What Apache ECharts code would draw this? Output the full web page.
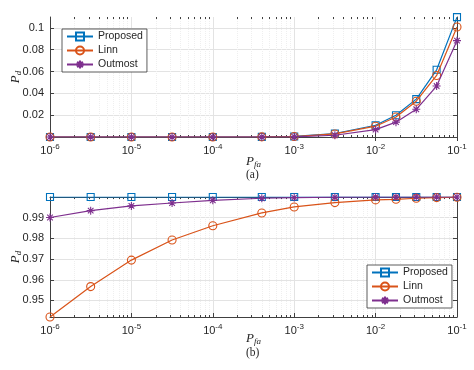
<!DOCTYPE html>
<html><head><meta charset="utf-8">
<script src="https://cdn.jsdelivr.net/npm/echarts@6/dist/echarts.min.js"></script>
<style>html,body{margin:0;padding:0;background:#fff}#c{width:474px;height:370px}</style>
</head><body><div id="c"></div>
<script>
// ---- data ----
const pfa = [1e-6, 3.16e-6, 1e-5, 3.16e-5, 1e-4, 4e-4, 1e-3, 3.16e-3, 1e-2, 1.78e-2, 3.16e-2, 5.62e-2, 1e-1];
const proposedA = [0, 0, 0, 0, 0, 0.0001, 0.0005, 0.0032, 0.0108, 0.0200, 0.0347, 0.0616, 0.1099];
const linnA     = [0, 0, 0, 0, 0, 0.0001, 0.0004, 0.0028, 0.0099, 0.0184, 0.0328, 0.0564, 0.1008];
const outmostA  = [0, 0, 0, 0, 0, 0.0000, 0.0002, 0.0016, 0.0068, 0.0136, 0.0254, 0.0467, 0.0883];
const proposedB = [1, 1, 1, 1, 1, 1, 1, 1, 1, 1, 1, 1, 1];
const linnB     = [0.942, 0.9567, 0.9695, 0.9792, 0.9861, 0.9923, 0.9952, 0.9973, 0.9986, 0.9989, 0.9994, 0.9997, 0.9999];
const outmostB  = [0.9901, 0.9934, 0.9957, 0.9971, 0.9984, 0.9994, 0.9997, 0.9999, 1, 1, 1, 1, 1];
const xMajorTicks = [1e-6, 1e-5, 1e-4, 1e-3, 1e-2, 1e-1];
const xMajorExp = ['-6', '-5', '-4', '-3', '-2', '-1'];
const minorMult = [2, 3, 4, 5, 6, 7, 8, 9];
const yTicksA = [0, 0.02, 0.04, 0.06, 0.08, 0.1];
const yLabelsA = [0.02, 0.04, 0.06, 0.08, 0.1];
const yTicksB = [0.95, 0.96, 0.97, 0.98, 0.99, 1];
const yLabelsB = [0.95, 0.96, 0.97, 0.98, 0.99];
const names = ['Proposed', 'Linn', 'Outmost'];
const colors = ['#0072BD', '#D95319', '#7E2F8E'];

const xMinorTicks = [];
xMajorTicks.slice(0, -1).forEach(d => minorMult.forEach(m => xMinorTicks.push(+(m * d).toPrecision(3))));

const axisCol = '#404040';
const txt = '#262626';
const font = 'Liberation Sans';

const grids = [
  {left: 50, right: 17, top: 17, height: 120, outerBoundsMode: 'none', containLabel: false},
  {left: 50, right: 17, top: 197, height: 120, outerBoundsMode: 'none', containLabel: false}
];

const serifRich = {
  p: {fontFamily: 'Liberation Serif', fontStyle: 'italic', fontSize: 13, color: txt},
  s: {fontFamily: 'Liberation Serif', fontStyle: 'italic', fontSize: 9, color: txt, padding: [6, 0, 0, 0]}
};

function xAxes(g, nameGap) {
  const base = {type: 'log', logBase: 10, min: 1e-6, max: 1e-1, gridIndex: g,
    axisLine: {show: true, lineStyle: {color: axisCol, width: 1}}};
  return [
    Object.assign({}, base, {position: 'bottom',
      axisTick: {show: true, inside: true, length: 4, lineStyle: {color: axisCol}},
      axisLabel: {show: true, color: txt, fontFamily: font, fontSize: 11, margin: 6,
        formatter: v => {
          const i = xMajorTicks.findIndex(t => Math.abs(Math.log10(t) - Math.log10(v)) < 1e-6);
          return i < 0 ? '' : '{b|10}{s|' + xMajorExp[i] + '}';
        },
        rich: {b: {fontSize: 11, fontFamily: font, color: txt}, s: {fontSize: 8, fontFamily: font, color: txt, padding: [0, 0, 7, 0]}}},
      splitLine: {show: true, lineStyle: {color: '#e3e3e3', width: 1}},
      name: '{p|P}{s|fa}', nameLocation: 'middle', nameGap: nameGap, nameMoveOverlap: false,
      nameTextStyle: {rich: serifRich}}),
    Object.assign({}, base, {position: 'top',
      axisTick: {show: true, inside: true, length: 4, lineStyle: {color: axisCol}},
      axisLabel: {show: false}, splitLine: {show: false}}),
    Object.assign({}, base, {position: 'bottom', axisLine: {show: false},
      axisTick: {show: true, inside: true, length: 2, customValues: xMinorTicks, lineStyle: {color: axisCol}},
      axisLabel: {show: false, customValues: xMinorTicks},
      splitLine: {show: true, lineStyle: {color: '#efefef', width: 1, type: [1, 1]}}}),
    Object.assign({}, base, {position: 'top', axisLine: {show: false},
      axisTick: {show: true, inside: true, length: 2, customValues: xMinorTicks, lineStyle: {color: axisCol}},
      axisLabel: {show: false, customValues: xMinorTicks}, splitLine: {show: false}})
  ];
}

function yAxes(g, min, max, ticks, labels) {
  const base = {type: 'value', min: min, max: max, gridIndex: g,
    axisLine: {show: true, lineStyle: {color: axisCol, width: 1}},
    axisTick: {show: true, inside: true, length: 4, customValues: ticks, lineStyle: {color: axisCol}}};
  return [
    Object.assign({}, base, {position: 'left',
      axisLabel: {color: txt, fontFamily: font, fontSize: 11, margin: 6, customValues: labels,
        formatter: v => String(+v.toFixed(3))},
      splitLine: {show: true, lineStyle: {color: '#e3e3e3', width: 1}},
      name: '{p|P}{s|d}', nameLocation: 'middle', nameGap: 27, nameRotate: 90, nameMoveOverlap: false,
      nameTextStyle: {rich: serifRich}}),
    Object.assign({}, base, {position: 'right', axisLabel: {show: false, customValues: labels}, splitLine: {show: false}})
  ];
}

const symbols = ['rect', 'circle', 'path://M5,0L5,10M0,5L10,5M1.5,1.5L8.5,8.5M1.5,8.5L8.5,1.5'];
const sizes = [7, 8, 8];

function makeSeries(g, arrs) {
  return arrs.map((arr, i) => ({
    name: names[i], type: 'line', xAxisIndex: g * 4, yAxisIndex: g * 2,
    data: pfa.map((x, k) => [x, arr[k]]),
    symbol: symbols[i], symbolSize: sizes[i], showAllSymbol: true,
    lineStyle: {color: colors[i], width: 1.2},
    itemStyle: {color: 'rgba(0,0,0,0)', borderColor: colors[i], borderWidth: 1.1},
    emphasis: {disabled: true}, z: 3 + i
  }));
}

function legend(left, top) {
  return {left: left, top: top, orient: 'vertical', data: names,
    itemWidth: 26, itemHeight: 10, itemGap: 3,
    padding: [2, 4, 2, 4], borderColor: '#333', borderWidth: 0.8, backgroundColor: '#fff',
    textStyle: {color: txt, fontFamily: font, fontSize: 10.5}, selectedMode: false};
}

const chart = echarts.init(document.getElementById('c'), null, {renderer: 'canvas'});
chart.setOption({
  animation: false,
  backgroundColor: '#fff',
  grid: grids,
  xAxis: xAxes(0, 17).concat(xAxes(1, 14)),
  yAxis: yAxes(0, 0, 0.11, yTicksA, yLabelsA).concat(yAxes(1, 0.942, 1, yTicksB, yLabelsB)),
  legend: [legend(62, 29), legend(367, 265)],
  series: makeSeries(0, [proposedA, linnA, outmostA]).concat(makeSeries(1, [proposedB, linnB, outmostB])),
  graphic: [
    {type: 'text', left: 246, top: 169, style: {text: '(a)', fontFamily: 'Liberation Serif', fontSize: 11.5, fill: txt}},
    {type: 'text', left: 246, top: 347, style: {text: '(b)', fontFamily: 'Liberation Serif', fontSize: 11.5, fill: txt}}
  ]
});
</script></body></html>
